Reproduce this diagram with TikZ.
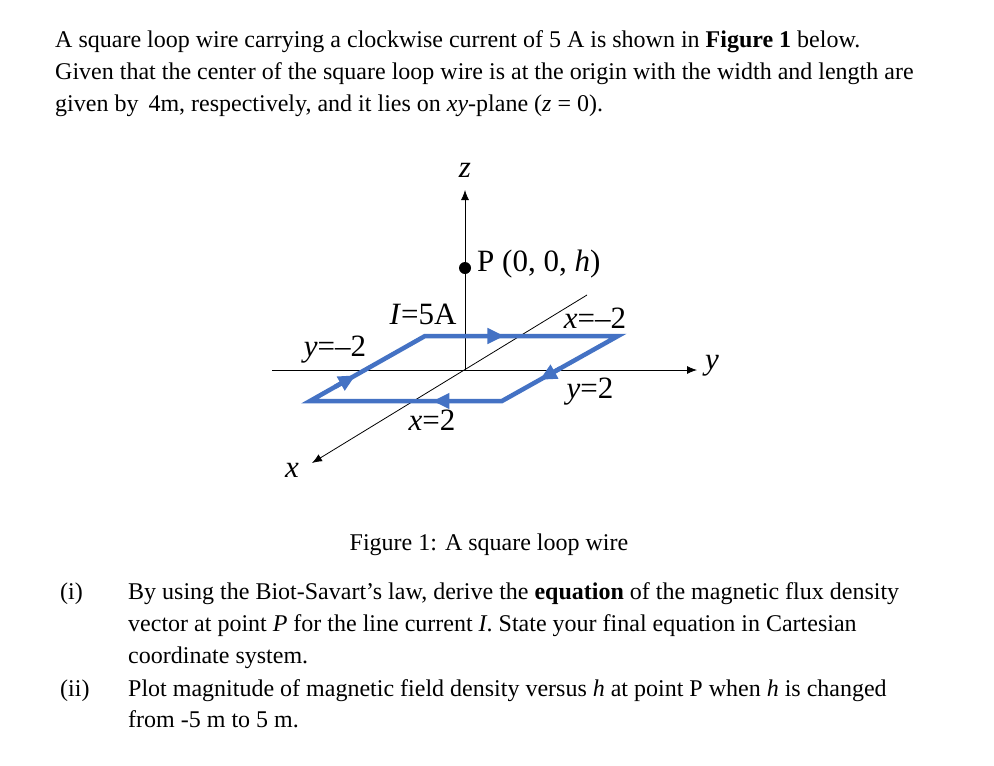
\documentclass[tikz,border=0pt]{standalone}
\usepackage{fontspec}
\setmainfont{Liberation Serif}
\usetikzlibrary{arrows.meta,calc}
\definecolor{wireblue}{RGB}{68,114,196}
\begin{document}
\begin{tikzpicture}[x=1pt,y=-1pt,
  txt/.style={anchor=base west,inner sep=0pt,font=\fontsize{24}{28}\selectfont},
  lbl/.style={inner sep=0pt,font=\fontsize{31}{35}\selectfont},
  axis/.style={line width=0.8pt,-{Latex[length=10pt,width=8pt]}},
  wire/.style={draw=wireblue,line width=4.5pt,line join=miter},
  warr/.style={draw=wireblue,line width=4.5pt,-{Triangle[length=17pt,width=15pt]},shorten >=-10pt}]
\useasboundingbox[fill=white] (0,0) rectangle (994,766);
% paragraph
\node[txt] (l1) at (55,47) {A square loop wire carrying a clockwise current of 5 A is shown in \textbf{Figure 1} below.};
\node[txt] (l2) at (55,79) {Given that the center of the square loop wire is at the origin with the width and length are};
\node[txt] (l3) at (55,111) {given by \,4m, respectively, and it lies on \textit{xy}-plane (\textit{z} = 0).};
% axes
\coordinate (O) at (465,370);
\coordinate (ztop) at (465,190);
\coordinate (yl) at (272,370);
\coordinate (yr) at (697,370);
\coordinate (xb) at (587,295);
\coordinate (xf) at (312,463);
\draw[axis] (O) -- (ztop);
\draw[axis] (yl) -- (yr);
\draw[axis] (xb) -- (xf);
\node[lbl] (zl) at (465,170) {\textit{z}};
\node[lbl] (ylab) at (712,366) {\textit{y}};
\node[lbl] (xlab) at (292,470) {\textit{x}};
% point P
\node[circle,fill,inner sep=0pt,minimum size=12pt] (P) at (465,268) {};
\node[lbl,anchor=west] (Pl) at (477,264) {P (0, 0, \textit{h})};
% loop
\coordinate (A) at (425,336);
\coordinate (B) at (618,336);
\coordinate (C) at (502,401);
\coordinate (D) at (310,401);
\draw[wire] (A) -- (B) -- (C) -- (D) -- cycle;
\draw[warr] ($(A)!0.25!(B)$) -- ($(A)!0.36!(B)$);
\draw[warr] ($(B)!0.5!(C)$) -- ($(B)!0.6!(C)$);
\draw[warr] ($(C)!0.2!(D)$) -- ($(C)!0.31!(D)$);
\draw[warr] ($(D)!0.22!(A)$) -- ($(D)!0.32!(A)$);
% labels
\node[lbl] (Il) at (423,314) {\textit{I}=5A};
\node[lbl] (xm2) at (595,318) {\textit{x}=–2};
\node[lbl] (ym2) at (335,350) {\textit{y}=–2};
\node[lbl] (yp2) at (590,392) {\textit{y}=2};
\node[lbl] (xp2) at (432,420) {\textit{x}=2};
% caption
\node[txt,anchor=base] (cap) at (489,550) {Figure 1: A square loop wire};
% items
\node[txt] (i1) at (60,599) {(i)};
\node[txt] (a1) at (128,599) {By using the Biot-Savart’s law, derive the \textbf{equation} of the magnetic flux density};
\node[txt] (a2) at (128,631) {vector at point \textit{P} for the line current \textit{I}. State your final equation in Cartesian};
\node[txt] (a3) at (128,663) {coordinate system.};
\node[txt] (i2) at (60,696) {(ii)};
\node[txt] (b1) at (128,696) {Plot magnitude of magnetic field density versus \textit{h} at point P when \textit{h} is changed};
\node[txt] (b2) at (128,727) {from -5 m to 5 m.};
\end{tikzpicture}
\end{document}
